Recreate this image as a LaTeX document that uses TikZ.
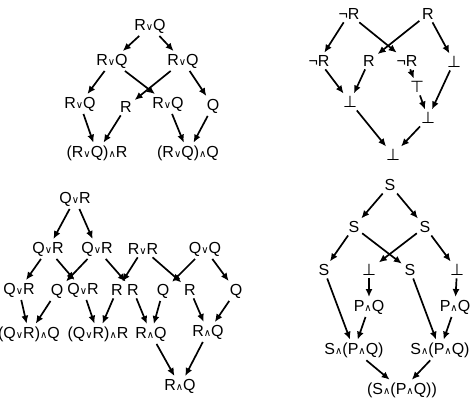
\documentclass[tikz,border=0pt]{standalone}
\usepackage{fontspec}
\setmainfont{Liberation Sans}
\newfontfamily\symb{DejaVu Sans}
\usepackage{tikz}
\usetikzlibrary{arrows.meta}
\newcommand{\ou}{{\symb\fontsize{10}{10}\selectfont ∨}}
\newcommand{\et}{{\symb\fontsize{10}{10}\selectfont ∧}}
\newcommand{\fls}{{\symb ⊥}}
\newcommand{\tru}{{\symb ⊤}}

\begin{document}
\begin{tikzpicture}[x=1pt, y=-1pt,
	every node/.style={font=\fontsize{16}{18}\selectfont, inner sep=2pt},
	every path/.style={line width=1.7pt},
	>={Latex[length=8pt,width=7pt]}]
	\useasboundingbox (0,0) rectangle (474,415);
	% top left
	\node (a1) at (150, 26) {R\ou Q};
	\node (a2) at (112, 61) {R\ou Q};
	\node (a3) at (183, 61) {R\ou Q};
	\node (a4) at (80, 104) {R\ou Q};
	\node (a5) at (126, 107) {R};
	\node (a6) at (168, 104) {R\ou Q};
	\node (a7) at (213, 106) {Q};
	\node (a8) at (97, 153) {(R\ou Q)\et R};
	\node (a9) at (188, 153) {(R\ou Q)\et Q};
	\foreach \x/\y in {1/2,1/3,2/4,2/6,3/5,3/7,4/8,5/8,6/9,7/9}
		\draw[->] (a\x) -- (a\y);
	% top right
	\node (b1) at (349, 14) {¬R};
	\node (b2) at (428, 14) {R};
	\node (b3) at (319, 61) {¬R};
	\node (b4) at (369, 61) {R};
	\node (b5) at (407, 61) {¬R};
	\node (b6) at (454, 62) {\fls};
	\node (b7) at (417, 87) {\tru};
	\node (b8) at (350, 102) {\fls};
	\node (b9) at (428, 118) {\fls};
	\node (b10) at (393, 155) {\fls};
	\foreach \x/\y in {1/3,1/5,2/4,2/6,3/8,4/8,5/7,7/9,6/9,8/10,9/10}
		\draw[->] (b\x) -- (b\y);
	% bottom left
	\node (c1) at (75, 199) {Q\ou R};
	\node (c2) at (48, 249) {Q\ou R};
	\node (c3) at (97, 249) {Q\ou R};
	\node (c4) at (143, 249) {R\ou R};
	\node (c5) at (205, 249) {Q\ou Q};
	\node (c6) at (19, 290) {Q\ou R};
	\node (c7) at (57, 291) {Q};
	\node (c8) at (83, 290) {Q\ou R};
	\node (c9) at (117, 290) {R};
	\node (c10) at (133, 290) {R};
	\node (c11) at (163, 291) {Q};
	\node (c12) at (190, 290) {R};
	\node (c13) at (236, 291) {Q};
	\node (c14) at (29, 334) {(Q\ou R)\et Q};
	\node (c15) at (98, 334) {(Q\ou R)\et R};
	\node (c16) at (151, 334) {R\et Q};
	\node (c17) at (208, 332) {R\et Q};
	\node (c18) at (180, 386) {R\et Q};
	\foreach \x/\y in {1/2,1/3,2/6,2/8,3/7,3/10,4/9,4/12,5/11,5/13,
			6/14,7/14,8/15,9/15,10/16,11/16,12/17,13/17,16/18,17/18}
		\draw[->] (c\x) -- (c\y);
	% bottom right
	\node (d1) at (390, 185) {S};
	\node (d2) at (354, 227) {S};
	\node (d3) at (425, 227) {S};
	\node (d4) at (324, 270) {S};
	\node (d5) at (369, 270) {\fls};
	\node (d6) at (410, 270) {S};
	\node (d7) at (457, 270) {\fls};
	\node (d8) at (369, 307) {P\et Q};
	\node (d9) at (455, 307) {P\et Q};
	\node (d10) at (354, 350) {S\et(P\et Q)};
	\node (d11) at (440, 350) {S\et(P\et Q)};
	\node (d12) at (402, 390) {(S\et(P\et Q))};
	\foreach \x/\y in {1/2,1/3,2/4,2/6,3/5,3/7,4/10,5/8,8/10,6/11,7/9,9/11,10/12,11/12}
		\draw[->] (d\x) -- (d\y);
\end{tikzpicture}
\end{document}
